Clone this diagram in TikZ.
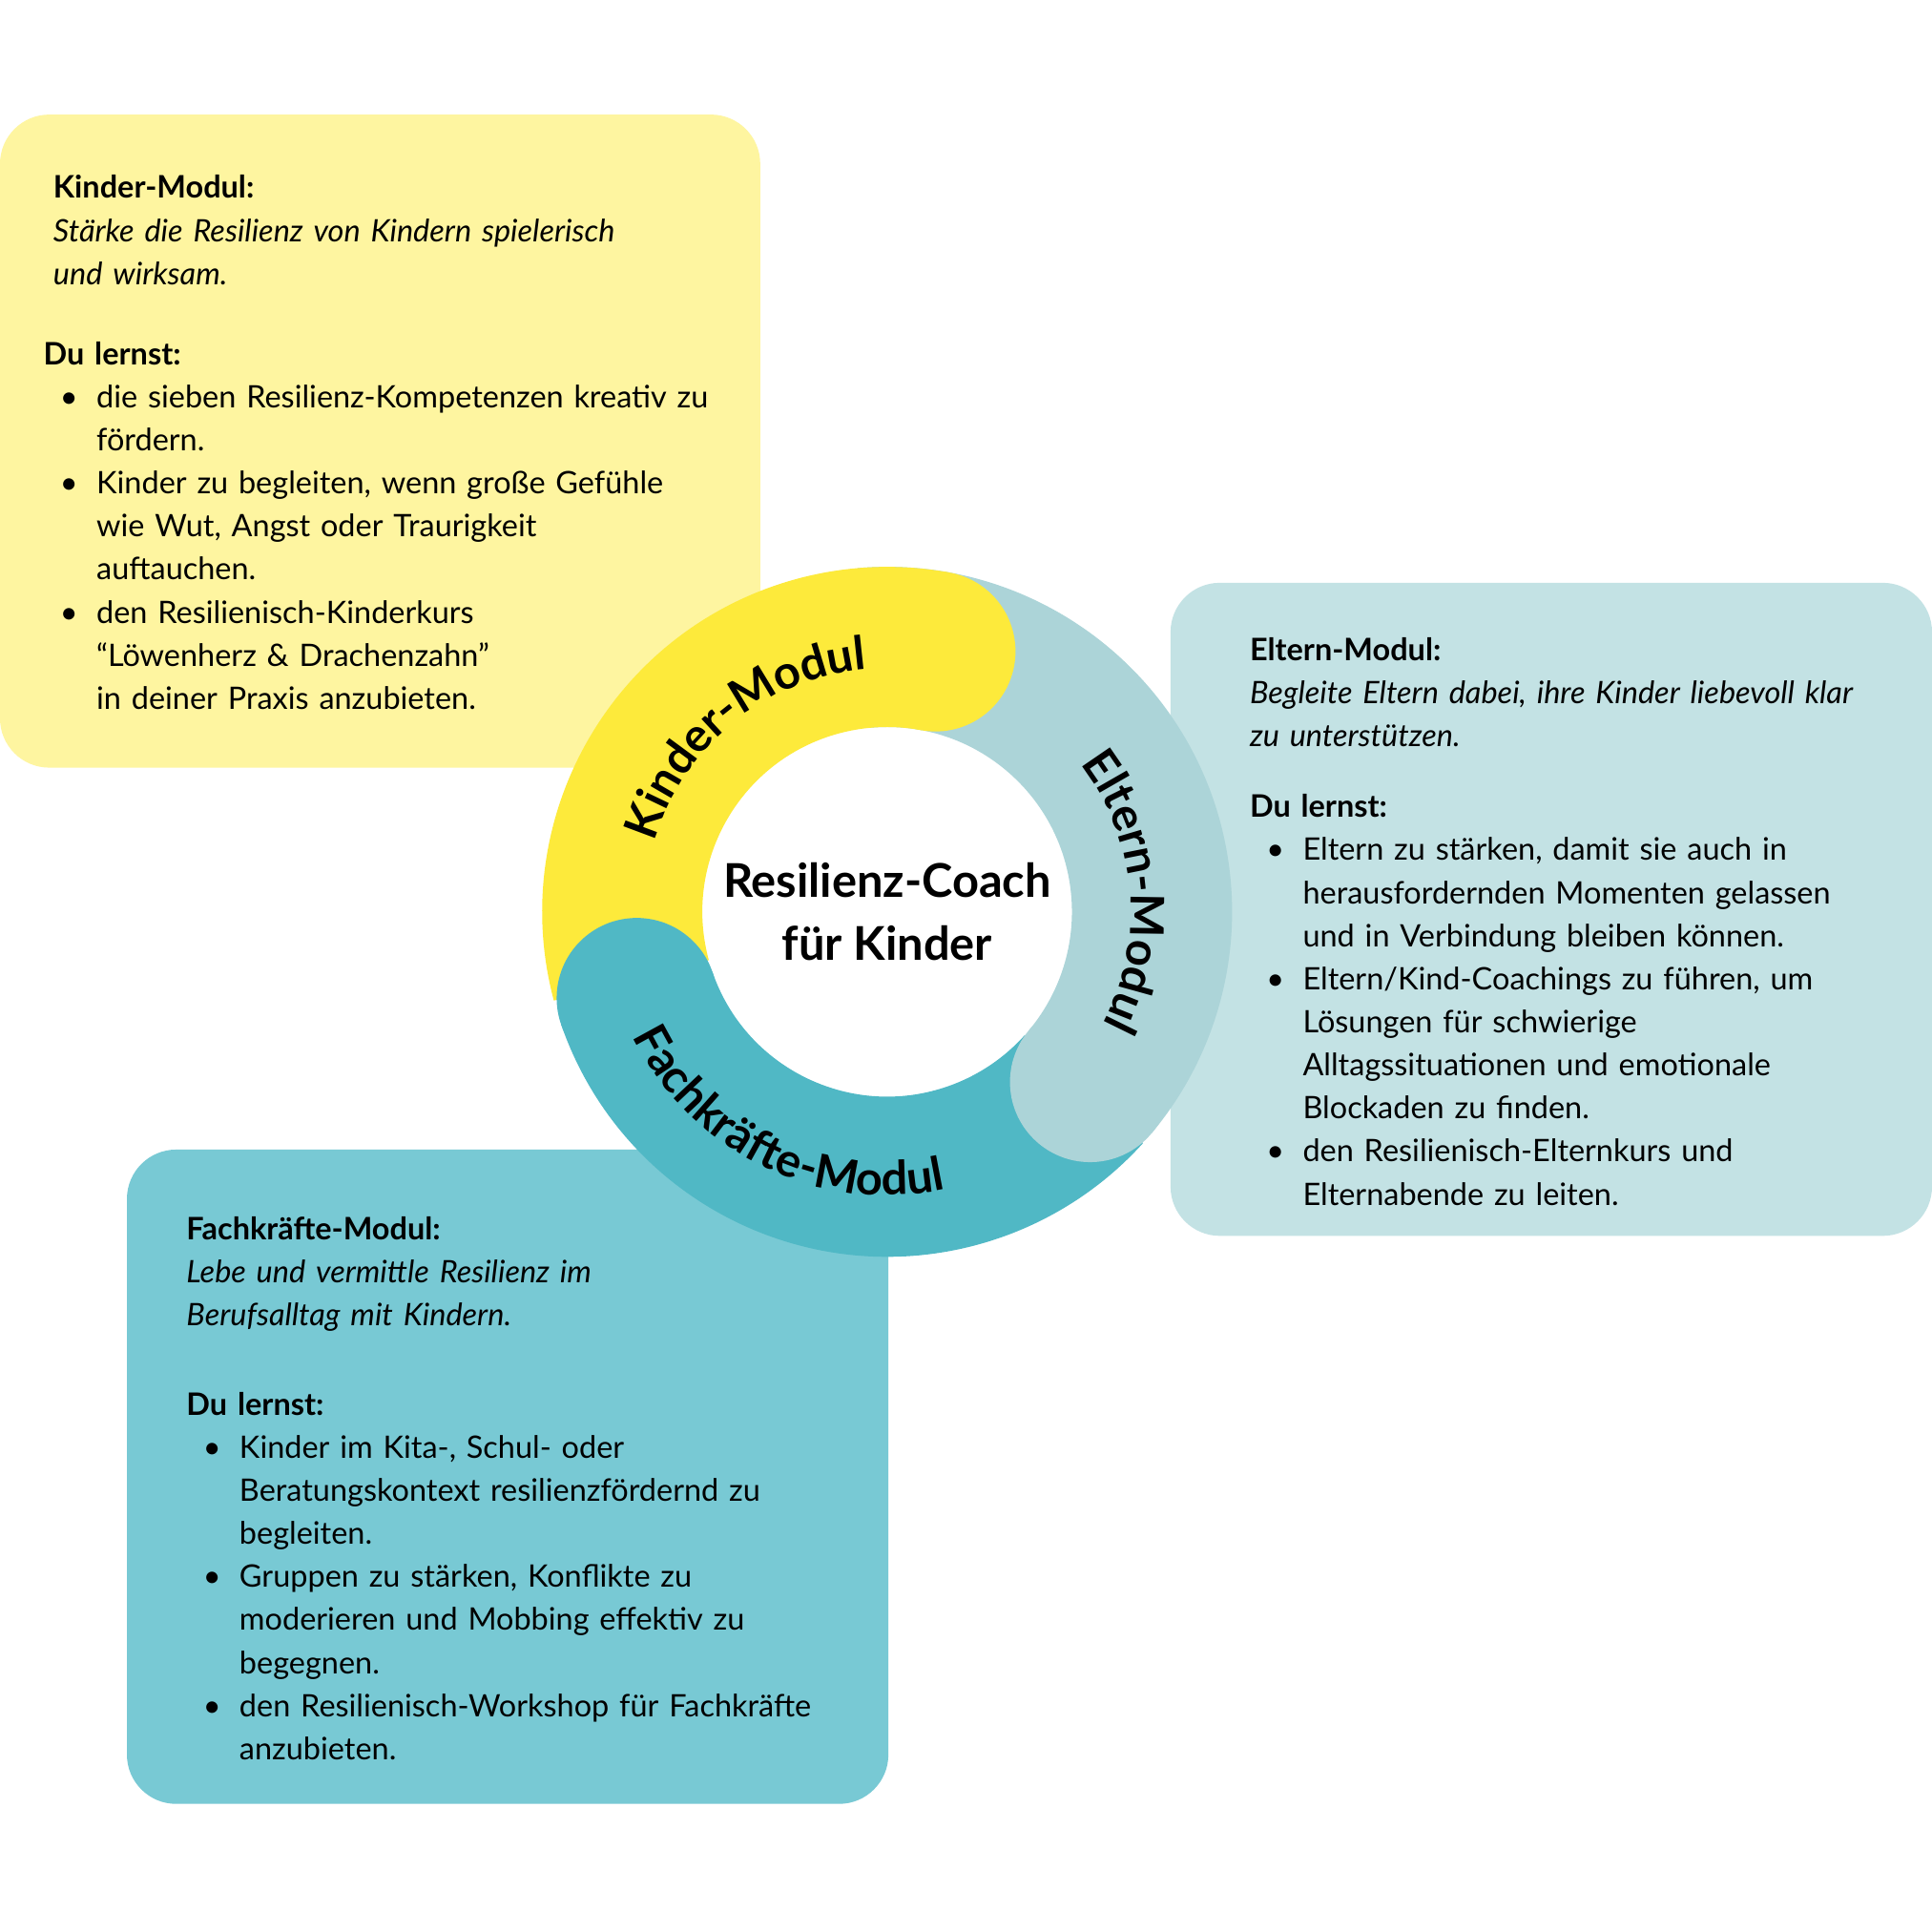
\documentclass[tikz,border=0pt]{standalone}
\usepackage{fontspec}
\setmainfont{Lato}
\usepackage{enumitem}
\usetikzlibrary{decorations.text}
\definecolor{ybox}{HTML}{FEF5A0}
\definecolor{lbox}{HTML}{C3E2E4}
\definecolor{tbox}{HTML}{78C9D4}
\definecolor{yring}{HTML}{FDEA3B}
\definecolor{lring}{HTML}{ACD4D8}
\definecolor{tring}{HTML}{50B8C5}
\newcommand{\bodyfont}{\fontsize{14.3}{19.9}\selectfont}
\newlist{dl}{itemize}{1}
\setlist[dl]{label=\textbullet,leftmargin=0.86cm,labelsep=0.3cm,itemsep=0pt,topsep=0pt,parsep=0pt,partopsep=0pt}
\tikzset{
 box/.style={rounded corners=0.8cm,draw=none},
 txt/.style={anchor=north west,inner sep=0pt,text width=#1,align=left,font=\bodyfont},
 ring/.style={line width=2.6cm,draw=#1},
 cap/.style={fill=#1,draw=none},
 lbl/.style={decorate,decoration={text along path,text align=center,text format delimiters={|}{|},text={|\fontsize{21.5}{24}\selectfont\bfseries|#1}}}
}
\begin{document}
\begin{tikzpicture}[x=0.02cm,y=-0.02cm]
\useasboundingbox (0,0) rectangle (1568,1568);
\fill[white] (0,0) rectangle (1568,1568);
% boxes
\fill[ybox,box] (0,93) rectangle (617,623);
\fill[lbox,box] (950,473) rectangle (1568,1003);
\fill[tbox,box] (103,933) rectangle (721,1464);
% ring
\coordinate (C) at (720,740);
\draw[ring=lring] ([shift={(95:4.3cm)}]C) arc[start angle=95,end angle=-40,radius=4.3cm];
\draw[ring=tring] ([shift={(199:4.3cm)}]C) arc[start angle=199,end angle=318,radius=4.3cm];
\draw[ring=yring] ([shift={(195:4.3cm)}]C) arc[start angle=195,end angle=79.5,radius=4.3cm];
\fill[cap=yring] ([shift={(79.5:4.3cm)}]C) circle[radius=1.3cm];
\fill[cap=lring] ([shift={(-40:4.3cm)}]C) circle[radius=1.3cm];
\fill[cap=tring] ([shift={(199:4.3cm)}]C) circle[radius=1.3cm];
\node[font=\fontsize{21.5}{29}\selectfont\bfseries,align=center] (center) at (C) {Resilienz-Coach\\für Kinder};
% curved labels
\path[lbl={Kinder-Modul}] ([shift={(175:3.95cm)}]C) arc[start angle=175,end angle=83,radius=3.95cm];
\path[lbl={Eltern-Modul}] ([shift={(50:3.95cm)}]C) arc[start angle=50,end angle=-40,radius=3.95cm];
\path[lbl={Fachkräfte-Modul}] ([shift={(188:4.6cm)}]C) arc[start angle=188,end angle=300,radius=4.6cm];
% yellow text
\node[txt=11cm] (kt) at (35,142) {%
\hspace*{0.16cm}\textbf{Kinder-Modul:}\\
\hspace*{0.16cm}\textit{Stärke die Resilienz von Kindern spielerisch}\\
\hspace*{0.16cm}\textit{und wirksam.}\\[0.6cm]
\textbf{Du lernst:}
\begin{dl}
\item die sieben Resilienz-Kompetenzen kreativ zu\newline fördern.
\item Kinder zu begleiten, wenn große Gefühle\newline wie Wut, Angst oder Traurigkeit\newline auftauchen.
\item den Resilienisch-Kinderkurs\newline “Löwenherz \& Drachenzahn”\newline in deiner Praxis anzubieten.
\end{dl}};
% eltern text
\node[txt=11cm] (et) at (1014,517) {%
\textbf{Eltern-Modul:}\\
\textit{Begleite Eltern dabei, ihre Kinder liebevoll klar}\\
\textit{zu unterstützen.}\\[0.45cm]
\textbf{Du lernst:}
\begin{dl}
\item Eltern zu stärken, damit sie auch in\newline herausfordernden Momenten gelassen\newline und in Verbindung bleiben können.
\item Eltern/Kind-Coachings zu führen, um\newline Lösungen für schwierige\newline Alltagssituationen und emotionale\newline Blockaden zu finden.
\item den Resilienisch-Elternkurs und\newline Elternabende zu leiten.
\end{dl}};
% fachkraefte text
\node[txt=11cm] (ft) at (151,987) {%
\textbf{Fachkräfte-Modul:}\\
\textit{Lebe und vermittle Resilienz im}\\
\textit{Berufsalltag mit Kindern.}\\[0.75cm]
\textbf{Du lernst:}
\begin{dl}
\item Kinder im Kita-, Schul- oder\newline Beratungskontext resilienzfördernd zu\newline begleiten.
\item Gruppen zu stärken, Konflikte zu\newline moderieren und Mobbing effektiv zu\newline begegnen.
\item den Resilienisch-Workshop für Fachkräfte\newline anzubieten.
\end{dl}};
\end{tikzpicture}
\end{document}
